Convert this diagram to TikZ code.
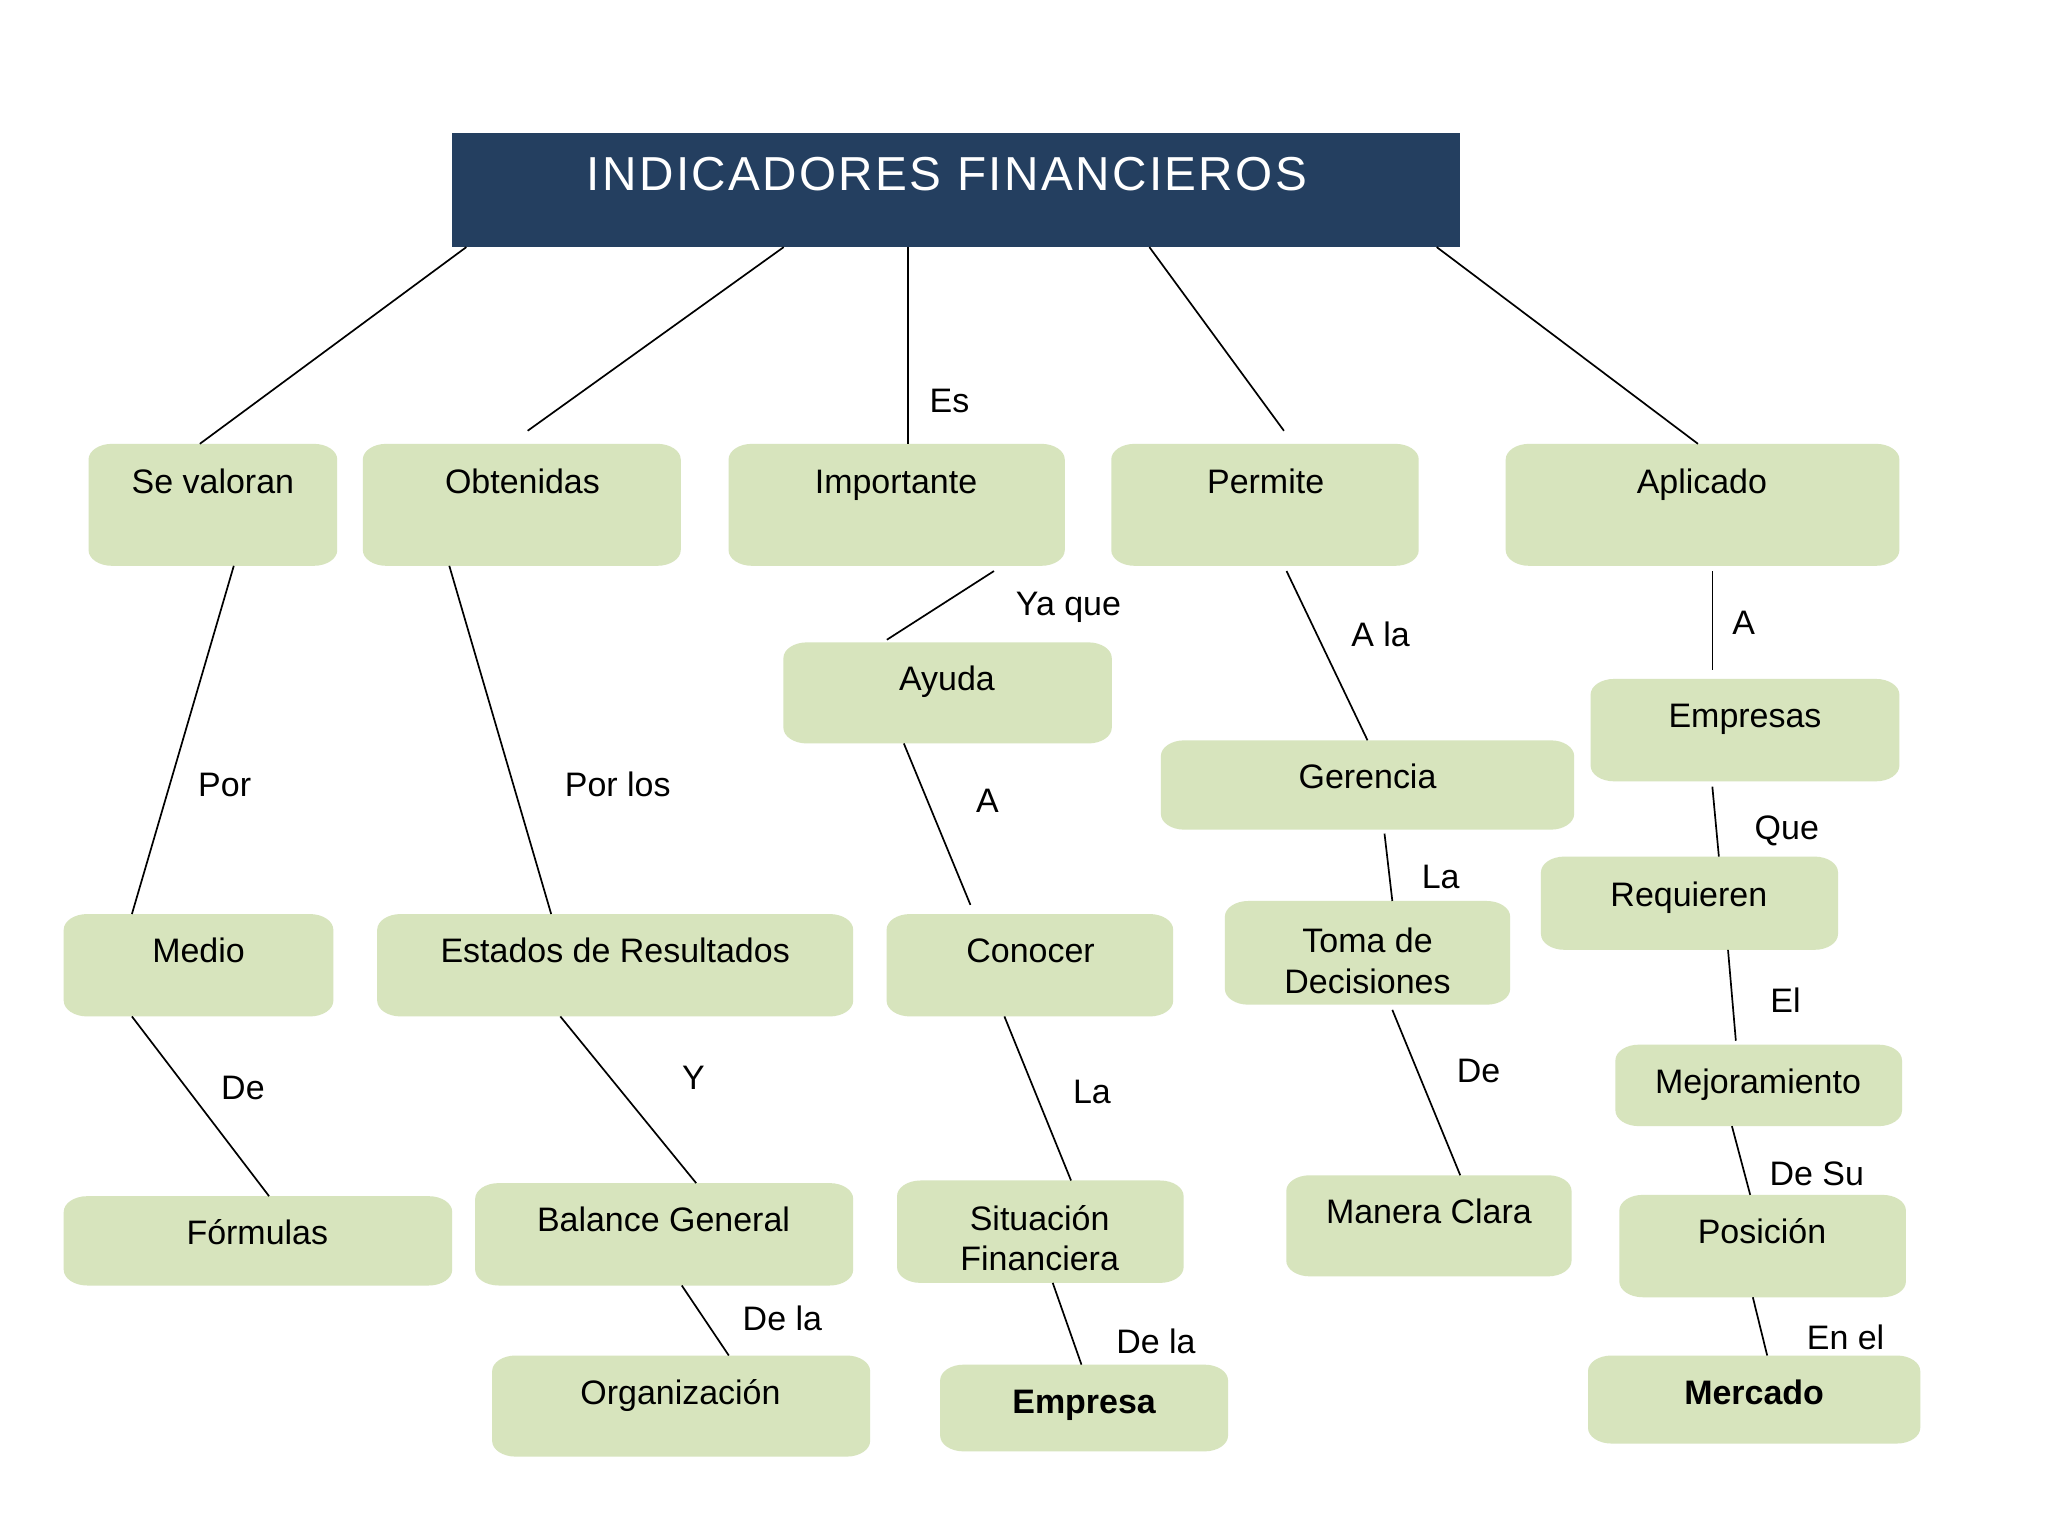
\documentclass[tikz,border=0pt]{standalone}
\usepackage{fontspec}
\setmainfont{Liberation Sans}
\newfontfamily\titlefont[LetterSpace=5]{Liberation Sans}
\usetikzlibrary{calc}
\definecolor{boxgreen}{HTML}{D7E4BD}
\definecolor{titleblue}{HTML}{243F60}
\tikzset{
  box/.style={draw=none, fill=none, inner sep=0pt, shape=rectangle},
  boxfill/.style={fill=boxgreen, draw=none},
  txt/.style={inner sep=0pt, font=\fontsize{26}{31}\selectfont, text=black},
  lbl/.style={inner sep=0pt, font=\fontsize{26}{31}\selectfont, text=black, anchor=base},
  conn/.style={draw=black, line width=1.3pt}
}
\newcommand\bx[5]{%
  \node[box, minimum width={#4-#2}, minimum height={#5-#3}] (#1) at ({(#2+#4)/2},{(#3+#5)/2}) {};
  \fill[boxfill] ([xshift=18pt]#1.north west) -- ([xshift=-18pt]#1.north east)
    arc[start angle=90, end angle=0, x radius=18pt, y radius=12pt]
    -- ([yshift=12pt]#1.south east)
    arc[start angle=0, end angle=-90, x radius=18pt, y radius=12pt]
    -- ([xshift=18pt]#1.south west)
    arc[start angle=270, end angle=180, x radius=18pt, y radius=12pt]
    -- ([yshift=-12pt]#1.north west)
    arc[start angle=180, end angle=90, x radius=18pt, y radius=12pt] -- cycle;}
\newcommand\tx[4]{\node[txt, anchor=base] (#1) at (#2,{#3+9}) {#4};}
\begin{document}
\begin{tikzpicture}[x=1pt,y=-1pt]
\useasboundingbox[fill=white] (0,0) rectangle (1568,1176);
% title
\node[fill=titleblue, inner sep=0pt, minimum width=772, minimum height=87] (title) at (732,145.5) {};
\node[inner sep=0pt, anchor=base, text=white, font=\titlefont\fontsize{36.5}{40}\selectfont] (title-t) at (725,146) {INDICADORES FINANCIEROS};
% boxes
\bx{sev}{68}{340}{258}{433}
\bx{obt}{278}{340}{521}{433}
\bx{imp}{558}{340}{815}{433}
\bx{per}{851}{340}{1086}{433}
\bx{apl}{1153}{340}{1454}{433}
\bx{ayu}{600}{492}{851}{569}
\bx{ger}{889}{567}{1205}{635}
\bx{emps}{1218}{520}{1454}{598}
\bx{req}{1180}{656}{1407}{727}
\bx{med}{49}{700}{255}{778}
\bx{est}{289}{700}{653}{778}
\bx{con}{679}{700}{898}{778}
\bx{tom}{938}{690}{1156}{769}
\bx{mej}{1237}{800}{1456}{862}
\bx{for}{49}{916}{346}{984}
\bx{bal}{364}{906}{653}{984}
\bx{sit}{687}{904}{906}{982}
\bx{man}{985}{900}{1203}{977}
\bx{pos}{1240}{915}{1459}{993}
\bx{org}{377}{1038}{666}{1115}
\bx{empa}{720}{1045}{940}{1111}
\bx{mer}{1216}{1038}{1470}{1105}
% box texts
\tx{sev-t}{163}{369}{Se valoran}
\tx{obt-t}{400}{369}{Obtenidas}
\tx{imp-t}{686}{369}{Importante}
\tx{per-t}{969}{369}{Permite}
\tx{apl-t}{1303}{369}{Aplicado}
\tx{ayu-t}{725}{520}{Ayuda}
\tx{ger-t}{1047}{595}{Gerencia}
\tx{emps-t}{1336}{548}{Empresas}
\tx{req-t}{1293}{685}{Requieren}
\tx{med-t}{152}{728}{Medio}
\tx{est-t}{471}{728}{Estados de Resultados}
\tx{con-t}{789}{728}{Conocer}
\node[txt, align=center] (tom-t) at (1047,735.5) {Toma de\\Decisiones};
\tx{mej-t}{1346}{828}{Mejoramiento}
\tx{for-t}{197}{944}{Fórmulas}
\tx{bal-t}{508}{934}{Balance General}
\node[txt, align=center] (sit-t) at (796,948) {Situación\\Financiera};
\tx{man-t}{1094}{928}{Manera Clara}
\tx{pos-t}{1349}{943}{Posición}
\tx{org-t}{521}{1066}{Organización}
\tx{empa-t}{830}{1073}{\bfseries Empresa}
\tx{mer-t}{1343}{1066}{\bfseries Mercado}
% connectors
\draw[conn] (title.south -| 357,0) -- (sev.north -| 153,0);
\draw[conn] (title.south -| 600,0) -- ($(obt.north -| 404,0)+(0,-10)$);
\draw[conn] (title.south -| 695,0) -- (imp.north -| 695,0);
\draw[conn] (title.south -| 880,0) -- ($(per.north -| 983,0)+(0,-10)$);
\draw[conn] (title.south -| 1100,0) -- (apl.north -| 1300,0);
\draw[conn] (sev.south -| 179,0) -- (med.north -| 101,0);
\draw[conn] (obt.south -| 344,0) -- (est.north -| 422,0);
\draw[conn] ($(imp.south -| 761,0)+(0,4)$) -- ($(ayu.north -| 679,0)+(0,-2)$);
\draw[conn] (ayu.south -| 692,0) -- ($(con.north -| 743,0)+(0,-7)$);
\draw[conn] ($(per.south -| 985,0)+(0,4)$) -- (ger.north -| 1047,0);
\draw[conn] ($(apl.south -| 1311,0)+(0,4)$) -- ($(emps.north -| 1311,0)+(0,-7)$);
\draw[conn] ($(emps.south -| 1311,0)+(0,4)$) -- (req.north -| 1316,0);
\draw[conn] ($(ger.south -| 1060,0)+(0,3)$) -- (tom.north -| 1066,0);
\draw[conn] (req.south -| 1323,0) -- ($(mej.north -| 1329,0)+(0,-3)$);
\draw[conn] (med.south -| 101,0) -- (for.north -| 206,0);
\draw[conn] (est.south -| 429,0) -- (bal.north -| 533,0);
\draw[conn] (con.south -| 769,0) -- (sit.north -| 820,0);
\draw[conn] ($(tom.south -| 1066,0)+(0,4)$) -- (man.north -| 1118,0);
\draw[conn] (mej.south -| 1326,0) -- (pos.north -| 1340,0);
\draw[conn] (bal.south -| 522,0) -- (org.north -| 558,0);
\draw[conn] (sit.south -| 806,0) -- (empa.north -| 828,0);
\draw[conn] (pos.south -| 1342,0) -- (mer.north -| 1353,0);
% labels
\node[lbl] (l-es) at (727,316) {Es};
\node[lbl] (l-por) at (172,610) {Por};
\node[lbl] (l-porlos) at (473,610) {Por los};
\node[lbl] (l-yaque) at (818,471) {Ya que};
\node[lbl] (l-a1) at (756,622) {A};
\node[lbl] (l-ala) at (1057,495) {A la};
\node[lbl] (l-a2) at (1335,486) {A};
\node[lbl] (l-que) at (1368,643) {Que};
\node[lbl] (l-la1) at (1103,680) {La};
\node[lbl] (l-el) at (1367,775) {El};
\node[lbl] (l-de1) at (186,842) {De};
\node[lbl] (l-y) at (531,834) {Y};
\node[lbl] (l-la2) at (836,845) {La};
\node[lbl] (l-de2) at (1132,829) {De};
\node[lbl] (l-desu) at (1391,908) {De Su};
\node[lbl] (l-dela1) at (599,1019) {De la};
\node[lbl] (l-dela2) at (885,1036) {De la};
\node[lbl] (l-enel) at (1413,1033) {En el};
\end{tikzpicture}
\end{document}
